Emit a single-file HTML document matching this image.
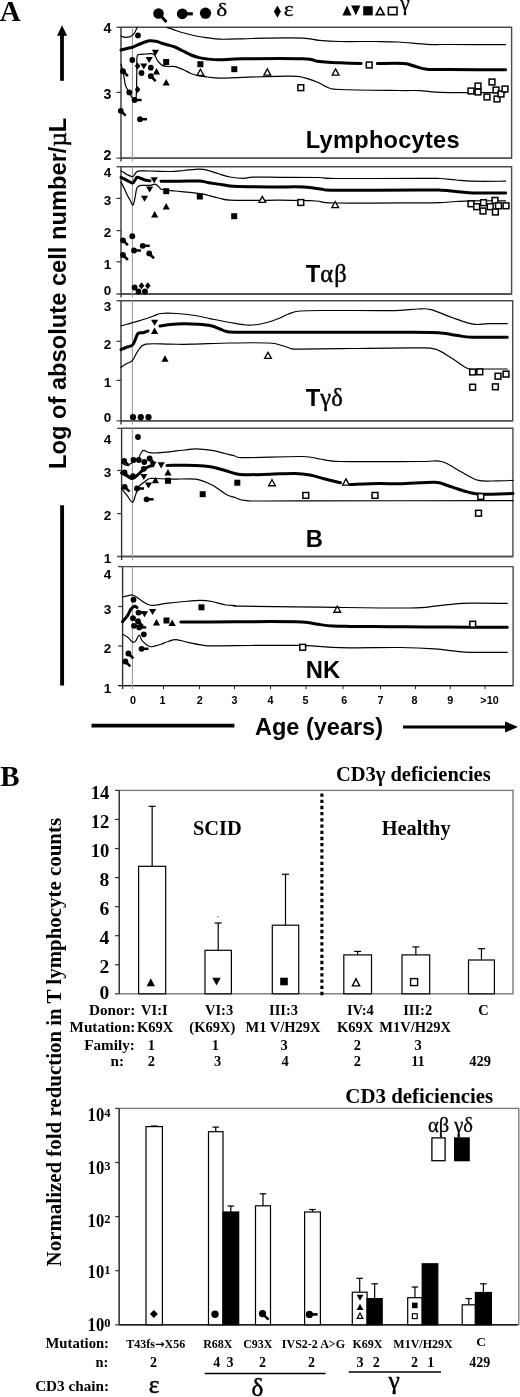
<!DOCTYPE html>
<html><head><meta charset="utf-8"><title>Figure</title>
<style>html,body{margin:0;padding:0;background:#fff;} svg{display:block;}</style>
</head><body>
<svg width="520" height="1397" viewBox="0 0 520 1397">
<rect width="520" height="1397" fill="#fff"/>
<text x="-0.3" y="20.5" font-family="'Liberation Serif', 'Times New Roman', serif" font-size="29" font-weight="bold" text-anchor="start" >A</text>
<line x1="62" y1="35" x2="62" y2="80.8" stroke="#000" stroke-width="3.8" stroke-linecap="butt"/>
<polygon points="57,35.8 67.1,35.8 62,25.3" fill="#000"/>
<text x="0" y="0" font-family="'Liberation Sans', Arial, sans-serif" font-size="23.7" font-weight="bold" text-anchor="start" transform="translate(66,469) rotate(-90)">Log of absolute cell number/<tspan font-family="'Liberation Serif', 'Times New Roman', serif" font-weight="normal" font-size="25" stroke="#000" stroke-width="0.5">µ</tspan>L</text>
<line x1="62.1" y1="505.3" x2="62.1" y2="685.6" stroke="#000" stroke-width="3.9" stroke-linecap="butt"/>
<circle cx="158.5" cy="13.5" r="5.3" fill="#000"/>
<line x1="158.5" y1="13.5" x2="166.5" y2="22" stroke="#000" stroke-width="3" />
<circle cx="182.3" cy="13.8" r="5.4" fill="#000"/>
<line x1="182.3" y1="13.8" x2="192.8" y2="13.8" stroke="#000" stroke-width="3.2" />
<circle cx="205.5" cy="13.2" r="5.6" fill="#000"/>
<text x="216.3" y="16.3" font-family="'Liberation Serif', 'Times New Roman', serif" font-size="19.5" font-weight="normal" text-anchor="start" textLength="11" lengthAdjust="spacingAndGlyphs" stroke="#000" stroke-width="0.3">δ</text>
<polygon points="277.4,5.4 280.9,11.5 277.4,17.7 273.9,11.5" fill="#000"/>
<text x="283.8" y="16.3" font-family="'Liberation Serif', 'Times New Roman', serif" font-size="21.5" font-weight="normal" text-anchor="start" textLength="10" lengthAdjust="spacingAndGlyphs" stroke="#000" stroke-width="0.3">ε</text>
<polygon points="342.4,15.4 351.6,15.4 347,5.4" fill="#000"/>
<polygon points="351.2,5.4 360.4,5.4 355.8,15.4" fill="#000"/>
<rect x="363.2" y="6.2" width="9.5" height="9.2" fill="#000"/>
<polygon points="376.2,14.6 384.2,14.6 380.2,7.4" fill="#fff" stroke="#000" stroke-width="1.6"/>
<rect x="388.4" y="7.3" width="8.6" height="7.4" fill="#fff" stroke="#000" stroke-width="1.6"/>
<text x="400.2" y="9.9" font-family="'Liberation Serif', 'Times New Roman', serif" font-size="21.5" font-weight="normal" text-anchor="start" stroke="#000" stroke-width="0.3">γ</text>
<path d="M121,27.3 H511.6 V158.1 H121" fill="none" stroke="#4a4a4a" stroke-width="1.4"/>
<line x1="116.5" y1="27.3" x2="121" y2="27.3" stroke="#4a4a4a" stroke-width="1.4" />
<line x1="116.5" y1="158.1" x2="511.6" y2="158.1" stroke="#4a4a4a" stroke-width="1.4" />
<line x1="121" y1="27.3" x2="121" y2="161.6" stroke="#333" stroke-width="1.4" />
<line x1="116.5" y1="92.4" x2="121" y2="92.4" stroke="#333" stroke-width="1.2" />
<text x="111.3" y="32.7" font-family="'Liberation Sans', Arial, sans-serif" font-size="14.2" font-weight="bold" text-anchor="end" >4</text>
<text x="111.3" y="98.7" font-family="'Liberation Sans', Arial, sans-serif" font-size="14.2" font-weight="bold" text-anchor="end" >3</text>
<text x="111.3" y="159.6" font-family="'Liberation Sans', Arial, sans-serif" font-size="14.2" font-weight="bold" text-anchor="end" >2</text>
<line x1="132.4" y1="27.3" x2="132.4" y2="161.6" stroke="#9a9a9a" stroke-width="1.1" />
<path d="M121,36 C121.5,36.2 122.88,37 124,37.2 C125.12,37.4 126.53,37.37 127.7,37.2 C128.87,37.03 130.03,36.7 131,36.2 C131.97,35.7 132.75,35.07 133.5,34.2 C134.25,33.33 134.87,32.13 135.5,31 C136.13,29.87 137,28 137.3,27.4" fill="none" stroke="#000" stroke-width="1.2" stroke-linejoin="round" stroke-linecap="round"/>
<path d="M167,27.4 C168.5,27.92 173.17,29.57 176,30.5 C178.83,31.43 180.67,32.08 184,33 C187.33,33.92 192.17,35.22 196,36 C199.83,36.78 203,37.17 207,37.7 C211,38.23 214,39.02 220,39.2 C226,39.38 235.33,38.98 243,38.8 C250.67,38.62 256,38.22 266,38.1 C276,37.98 294.13,37.72 303,38.1 C311.87,38.48 313.03,39.83 319.2,40.4 C325.37,40.97 330.53,41.32 340,41.5 C349.47,41.68 366.17,41.42 376,41.5 C385.83,41.58 390.5,41.53 399,42 C407.5,42.47 418.5,43.88 427,44.3 C435.5,44.72 436.9,44.45 450,44.5 C463.1,44.55 496.33,44.58 505.6,44.6" fill="none" stroke="#000" stroke-width="1.2" stroke-linejoin="round" stroke-linecap="round"/>
<path d="M121,50 C122,49.75 124.92,49.03 127,48.5 C129.08,47.97 131.17,47.63 133.5,46.8 C135.83,45.97 138.32,44.5 141,43.5 C143.68,42.5 147.1,41.17 149.6,40.8 C152.1,40.43 154.1,40.93 156,41.3 C157.9,41.67 159,42.38 161,43 C163,43.62 165.67,44.33 168,45 C170.33,45.67 172.5,46 175,47 C177.5,48 180.33,49.67 183,51 C185.67,52.33 188.33,53.9 191,55 C193.67,56.1 196.33,56.93 199,57.6 C201.67,58.27 203.5,58.63 207,59 C210.5,59.37 214,59.83 220,59.8 C226,59.77 229.17,58.97 243,58.8 C256.83,58.63 290.67,58.4 303,58.8 C315.33,59.2 312.75,60.62 317,61.2 C321.25,61.78 324.67,62.03 328.5,62.3 C332.33,62.57 334.55,62.6 340,62.8 C345.45,63 357.67,63.38 361.2,63.5" fill="none" stroke="#000" stroke-width="3" stroke-linejoin="round" stroke-linecap="round"/>
<path d="M377.3,63.5 C381.72,63.5 397.52,63.03 403.8,63.5 C410.08,63.97 411.13,65.35 415,66.3 C418.87,67.25 421.17,68.65 427,69.2 C432.83,69.75 436.9,69.52 450,69.6 C463.1,69.68 496.33,69.68 505.6,69.7" fill="none" stroke="#000" stroke-width="3" stroke-linejoin="round" stroke-linecap="round"/>
<path d="M121,64.2 C121.42,65.83 122.77,70.53 123.5,74 C124.23,77.47 124.65,82.25 125.4,85 C126.15,87.75 127.23,88.97 128,90.5 C128.77,92.03 129.17,92.82 130,94.2 C130.83,95.58 132.17,98.08 133,98.8 C133.83,99.52 134.47,98.88 135,98.5 C135.53,98.12 135.9,100.42 136.2,96.5 C136.5,92.58 136.67,81.53 136.8,75 C136.93,68.47 136.6,60.72 137,57.3 C137.4,53.88 137.7,55.05 139.2,54.5 C140.7,53.95 143.7,54.12 146,54 C148.3,53.88 151.42,53.38 153,53.8 C154.58,54.22 154.72,55.33 155.5,56.5 C156.28,57.67 156.57,59.32 157.7,60.8 C158.83,62.28 160.58,64.45 162.3,65.4 C164.02,66.35 165.88,66.3 168,66.5 C170.12,66.7 172.5,66.1 175,66.6 C177.5,67.1 180.33,68.35 183,69.5 C185.67,70.65 188.33,72.45 191,73.5 C193.67,74.55 196.28,75.22 199,75.8 C201.72,76.38 203.8,76.6 207.3,77 C210.8,77.4 214.05,78.15 220,78.2 C225.95,78.25 231.47,77.63 243,77.3 C254.53,76.97 279.2,76.2 289.2,76.2 C299.2,76.2 298.37,76.33 303,77.3 C307.63,78.27 312.75,80.27 317,82 C321.25,83.73 324.67,86.45 328.5,87.7 C332.33,88.95 328.25,89.03 340,89.5 C351.75,89.97 385.67,90.32 399,90.5 C412.33,90.68 413.17,90.3 420,90.6 C426.83,90.9 425.73,91.95 440,92.3 C454.27,92.65 494.67,92.63 505.6,92.7" fill="none" stroke="#000" stroke-width="1.2" stroke-linejoin="round" stroke-linecap="round"/>
<circle cx="138" cy="35.4" r="2.9" fill="#000"/>
<circle cx="132.3" cy="60" r="2.9" fill="#000"/>
<polygon points="151.8,49.64 159,49.64 155.4,55.76" fill="#000"/>
<polygon points="145.6,56.94 152.8,56.94 149.2,63.06" fill="#000"/>
<polygon points="140.2,63.44 147.4,63.44 143.8,69.56" fill="#000"/>
<polygon points="137.6,62.5 140.4,66 137.6,69.5 134.8,66" fill="#000"/>
<circle cx="150.8" cy="67.7" r="2.9" fill="#000"/>
<circle cx="141.5" cy="73" r="2.9" fill="#000"/>
<polygon points="152.9,74.44 160.1,74.44 156.5,67.96" fill="#000"/>
<circle cx="150.8" cy="76.2" r="2.9" fill="#000"/>
<line x1="150.8" y1="76.2" x2="155.68" y2="81.08" stroke="#000" stroke-width="2.6" stroke-linecap="butt"/>
<rect x="163.2" y="59" width="6" height="6" fill="#000"/>
<polygon points="162.6,85.44 169.8,85.44 166.2,78.96" fill="#000"/>
<rect x="197.4" y="61.2" width="6" height="6" fill="#000"/>
<polygon points="197,75.36 203.8,75.36 200.4,69.24" fill="#fff" stroke="#000" stroke-width="1.3" stroke-linejoin="miter"/>
<rect x="231.3" y="66.2" width="6" height="6" fill="#000"/>
<circle cx="123" cy="71.2" r="2.9" fill="#000"/>
<line x1="123" y1="71.2" x2="127.88" y2="76.08" stroke="#000" stroke-width="2.6" stroke-linecap="butt"/>
<polygon points="137.6,86.1 140.4,89.6 137.6,93.1 134.8,89.6" fill="#000"/>
<circle cx="129.3" cy="92.4" r="2.9" fill="#000"/>
<circle cx="134.6" cy="100" r="2.9" fill="#000"/>
<line x1="134.6" y1="100" x2="141.6" y2="100" stroke="#000" stroke-width="2.5" />
<circle cx="120.8" cy="110.8" r="2.9" fill="#000"/>
<line x1="120.8" y1="110.8" x2="125.67" y2="115.67" stroke="#000" stroke-width="2.6" stroke-linecap="butt"/>
<circle cx="140" cy="119.2" r="2.9" fill="#000"/>
<line x1="140" y1="119.2" x2="147" y2="119.2" stroke="#000" stroke-width="2.5" />
<polygon points="263.9,75.06 270.7,75.06 267.3,68.94" fill="#fff" stroke="#000" stroke-width="1.3" stroke-linejoin="miter"/>
<polygon points="332.2,75.06 339,75.06 335.6,68.94" fill="#fff" stroke="#000" stroke-width="1.3" stroke-linejoin="miter"/>
<rect x="297.9" y="84.8" width="5.8" height="5.8" fill="#fff" stroke="#000" stroke-width="1.5"/>
<rect x="366.3" y="62.1" width="5.8" height="5.8" fill="#fff" stroke="#000" stroke-width="1.5"/>
<rect x="468.1" y="88.1" width="5.8" height="5.8" fill="#fff" stroke="#000" stroke-width="1.5"/>
<rect x="475.1" y="83.1" width="5.8" height="5.8" fill="#fff" stroke="#000" stroke-width="1.5"/>
<rect x="475.1" y="89.1" width="5.8" height="5.8" fill="#fff" stroke="#000" stroke-width="1.5"/>
<rect x="484.1" y="94.1" width="5.8" height="5.8" fill="#fff" stroke="#000" stroke-width="1.5"/>
<rect x="489.1" y="79.1" width="5.8" height="5.8" fill="#fff" stroke="#000" stroke-width="1.5"/>
<rect x="493.1" y="87.1" width="5.8" height="5.8" fill="#fff" stroke="#000" stroke-width="1.5"/>
<rect x="494.1" y="96.1" width="5.8" height="5.8" fill="#fff" stroke="#000" stroke-width="1.5"/>
<rect x="498.1" y="91.1" width="5.8" height="5.8" fill="#fff" stroke="#000" stroke-width="1.5"/>
<rect x="502.1" y="86.1" width="5.8" height="5.8" fill="#fff" stroke="#000" stroke-width="1.5"/>
<text x="305.8" y="147.8" font-family="'Liberation Sans', Arial, sans-serif" font-size="23.6" font-weight="bold" text-anchor="start" textLength="153.8" lengthAdjust="spacing">Lymphocytes</text>
<path d="M121,166.7 H511.6 V294 H121" fill="none" stroke="#4a4a4a" stroke-width="1.4"/>
<line x1="116.5" y1="166.7" x2="121" y2="166.7" stroke="#4a4a4a" stroke-width="1.4" />
<line x1="116.5" y1="294" x2="511.6" y2="294" stroke="#4a4a4a" stroke-width="1.4" />
<line x1="121" y1="166.7" x2="121" y2="297.5" stroke="#333" stroke-width="1.4" />
<line x1="116.5" y1="198.4" x2="121" y2="198.4" stroke="#333" stroke-width="1.2" />
<line x1="116.5" y1="230.6" x2="121" y2="230.6" stroke="#333" stroke-width="1.2" />
<line x1="116.5" y1="261.8" x2="121" y2="261.8" stroke="#333" stroke-width="1.2" />
<text x="111.3" y="177.3" font-family="'Liberation Sans', Arial, sans-serif" font-size="13.5" font-weight="bold" text-anchor="end" >4</text>
<text x="111.3" y="205.2" font-family="'Liberation Sans', Arial, sans-serif" font-size="13.5" font-weight="bold" text-anchor="end" >3</text>
<text x="111.3" y="236.6" font-family="'Liberation Sans', Arial, sans-serif" font-size="13.5" font-weight="bold" text-anchor="end" >2</text>
<text x="111.3" y="268.6" font-family="'Liberation Sans', Arial, sans-serif" font-size="13.5" font-weight="bold" text-anchor="end" >1</text>
<text x="111.3" y="295.2" font-family="'Liberation Sans', Arial, sans-serif" font-size="13.5" font-weight="bold" text-anchor="end" >0</text>
<line x1="132.4" y1="166.7" x2="132.4" y2="297.5" stroke="#9a9a9a" stroke-width="1.1" />
<path d="M121,171 C121.5,171.25 123.08,171.95 124,172.5 C124.92,173.05 125.08,173.62 126.5,174.3 C127.92,174.98 131.08,176.65 132.5,176.6 C133.92,176.55 134.25,174.85 135,174 C135.75,173.15 136.1,172.03 137,171.5 C137.9,170.97 138.3,170.88 140.4,170.8 C142.5,170.72 144.6,170.88 149.6,171 C154.6,171.12 164.67,171.58 170.4,171.5 C176.13,171.42 179.2,170.88 184,170.5 C188.8,170.12 195.07,169.18 199.2,169.2 C203.33,169.22 205.58,169.83 208.8,170.6 C212.02,171.37 214.97,172.73 218.5,173.8 C222.03,174.87 225.83,176.25 230,177 C234.17,177.75 239.67,178.27 243.5,178.3 C247.33,178.33 246.92,177.37 253,177.2 C259.08,177.03 269,177.25 280,177.3 C291,177.35 309.9,177.3 319,177.5 C328.1,177.7 317.77,178.35 334.6,178.5 C351.43,178.65 402.6,178.4 420,178.4 C437.4,178.4 433,178.23 439,178.5 C445,178.77 450.5,179.55 456,180 C461.5,180.45 463.73,181 472,181.2 C480.27,181.4 500,181.2 505.6,181.2" fill="none" stroke="#000" stroke-width="1.2" stroke-linejoin="round" stroke-linecap="round"/>
<path d="M121,177.3 C122,177.8 125.08,179.35 127,180.3 C128.92,181.25 131.17,183.05 132.5,183 C133.83,182.95 134.25,180.95 135,180 C135.75,179.05 136,177.55 137,177.3 C138,177.05 139.5,178 141,178.5 C142.5,179 144.5,179.92 146,180.3 C147.5,180.68 149.33,180.72 150,180.8" fill="none" stroke="#000" stroke-width="3" stroke-linejoin="round" stroke-linecap="round"/>
<path d="M161,181.2 C164.17,181.2 173.63,181.23 180,181.2 C186.37,181.17 194.4,180.75 199.2,181 C204,181.25 204.63,182.03 208.8,182.7 C212.97,183.37 220.03,184.4 224.2,185 C228.37,185.6 226.17,185.97 233.8,186.3 C241.43,186.63 258.33,186.88 270,187 C281.67,187.12 295.08,186.63 303.8,187 C312.52,187.37 317.17,188.67 322.3,189.2 C327.43,189.73 318.32,190.07 334.6,190.2 C350.88,190.33 402.6,190.03 420,190 C437.4,189.97 433,189.75 439,190 C445,190.25 450.5,191 456,191.5 C461.5,192 463.73,192.75 472,193 C480.27,193.25 500,193 505.6,193" fill="none" stroke="#000" stroke-width="3" stroke-linejoin="round" stroke-linecap="round"/>
<path d="M121,182 C121.5,183 123,185.9 124,188 C125,190.1 126,192.6 127,194.6 C128,196.6 129.08,198.27 130,200 C130.92,201.73 131.83,204.55 132.5,205 C133.17,205.45 133.5,204.37 134,202.7 C134.5,201.03 135,197.5 135.5,195 C136,192.5 136.08,189.3 137,187.7 C137.92,186.1 138.83,185.78 141,185.4 C143.17,185.02 147.67,185.6 150,185.4 C152.33,185.2 153.58,184.02 155,184.2 C156.42,184.38 157.33,185.62 158.5,186.5 C159.67,187.38 159.25,188.75 162,189.5 C164.75,190.25 170.33,190.52 175,191 C179.67,191.48 185.33,191.87 190,192.4 C194.67,192.93 198.25,193.27 203,194.2 C207.75,195.13 214,197 218.5,198 C223,199 223.58,199.8 230,200.2 C236.42,200.6 248.67,200.4 257,200.4 C265.33,200.4 270.17,200.1 280,200.2 C289.83,200.3 306.9,200.53 316,201 C325.1,201.47 317.27,202.7 334.6,203 C351.93,203.3 402.6,202.85 420,202.8 C437.4,202.75 433,202.92 439,202.7 C445,202.48 450.5,201.82 456,201.5 C461.5,201.18 463.73,200.92 472,200.8 C480.27,200.68 500,200.8 505.6,200.8" fill="none" stroke="#000" stroke-width="1.2" stroke-linejoin="round" stroke-linecap="round"/>
<polygon points="150.6,177.24 157.8,177.24 154.2,183.36" fill="#000"/>
<polygon points="146,186.44 153.2,186.44 149.6,192.56" fill="#000"/>
<polygon points="140.9,195.74 148.1,195.74 144.5,201.86" fill="#000"/>
<rect x="163.2" y="188.2" width="6" height="6" fill="#000"/>
<polygon points="162.6,209.44 169.8,209.44 166.2,202.96" fill="#000"/>
<polygon points="151.1,217.44 158.3,217.44 154.7,210.96" fill="#000"/>
<rect x="196.8" y="193.5" width="6" height="6" fill="#000"/>
<rect x="231.2" y="213.2" width="6" height="6" fill="#000"/>
<circle cx="132.3" cy="236.2" r="2.9" fill="#000"/>
<circle cx="123" cy="240.3" r="2.9" fill="#000"/>
<line x1="123" y1="240.3" x2="127.88" y2="245.18" stroke="#000" stroke-width="2.6" stroke-linecap="butt"/>
<circle cx="142.7" cy="245.8" r="2.9" fill="#000"/>
<line x1="142.7" y1="245.8" x2="149.7" y2="245.8" stroke="#000" stroke-width="2.5" />
<circle cx="134" cy="250.5" r="2.9" fill="#000"/>
<line x1="134" y1="250.5" x2="141" y2="250.5" stroke="#000" stroke-width="2.5" />
<circle cx="149.2" cy="253.5" r="2.9" fill="#000"/>
<line x1="149.2" y1="253.5" x2="154.07" y2="258.38" stroke="#000" stroke-width="2.6" stroke-linecap="butt"/>
<circle cx="123" cy="255" r="2.9" fill="#000"/>
<line x1="123" y1="255" x2="127.88" y2="259.88" stroke="#000" stroke-width="2.6" stroke-linecap="butt"/>
<circle cx="134.6" cy="287.5" r="2.9" fill="#000"/>
<polygon points="141.5,282.3 144.3,285.8 141.5,289.3 138.7,285.8" fill="#000"/>
<polygon points="147.8,282.3 150.6,285.8 147.8,289.3 145,285.8" fill="#000"/>
<circle cx="138.5" cy="291.5" r="2.9" fill="#000"/>
<circle cx="145" cy="291.5" r="2.9" fill="#000"/>
<polygon points="258.9,202.46 265.7,202.46 262.3,196.34" fill="#fff" stroke="#000" stroke-width="1.3" stroke-linejoin="miter"/>
<rect x="297.9" y="199.6" width="5.8" height="5.8" fill="#fff" stroke="#000" stroke-width="1.5"/>
<polygon points="331.8,207.66 338.6,207.66 335.2,201.54" fill="#fff" stroke="#000" stroke-width="1.3" stroke-linejoin="miter"/>
<rect x="468.1" y="200.9" width="5.8" height="5.8" fill="#fff" stroke="#000" stroke-width="1.5"/>
<rect x="473.8" y="203.8" width="5.8" height="5.8" fill="#fff" stroke="#000" stroke-width="1.5"/>
<rect x="480.6" y="199.8" width="5.8" height="5.8" fill="#fff" stroke="#000" stroke-width="1.5"/>
<rect x="480.1" y="208.1" width="5.8" height="5.8" fill="#fff" stroke="#000" stroke-width="1.5"/>
<rect x="487.3" y="203.8" width="5.8" height="5.8" fill="#fff" stroke="#000" stroke-width="1.5"/>
<rect x="492.1" y="197.5" width="5.8" height="5.8" fill="#fff" stroke="#000" stroke-width="1.5"/>
<rect x="495.6" y="202.9" width="5.8" height="5.8" fill="#fff" stroke="#000" stroke-width="1.5"/>
<rect x="492.5" y="209.1" width="5.8" height="5.8" fill="#fff" stroke="#000" stroke-width="1.5"/>
<rect x="503.1" y="202.9" width="5.8" height="5.8" fill="#fff" stroke="#000" stroke-width="1.5"/>
<text x="305.8" y="281.8" font-family="'Liberation Sans', Arial, sans-serif" font-size="23.8" font-weight="bold" text-anchor="start" >T<tspan font-family="'Liberation Serif', 'Times New Roman', serif" font-weight="normal" font-size="24.5" stroke="#000" stroke-width="0.45" letter-spacing="1">αβ</tspan></text>
<path d="M121,300.7 H512.7 V420.9 H121" fill="none" stroke="#4a4a4a" stroke-width="1.4"/>
<line x1="116.5" y1="300.7" x2="121" y2="300.7" stroke="#4a4a4a" stroke-width="1.4" />
<line x1="116.5" y1="420.9" x2="512.7" y2="420.9" stroke="#4a4a4a" stroke-width="1.4" />
<line x1="121" y1="300.7" x2="121" y2="424.4" stroke="#333" stroke-width="1.4" />
<line x1="116.5" y1="341.3" x2="121" y2="341.3" stroke="#333" stroke-width="1.2" />
<line x1="116.5" y1="380.4" x2="121" y2="380.4" stroke="#333" stroke-width="1.2" />
<text x="111.3" y="311" font-family="'Liberation Sans', Arial, sans-serif" font-size="13.5" font-weight="bold" text-anchor="end" >3</text>
<text x="111.3" y="348.7" font-family="'Liberation Sans', Arial, sans-serif" font-size="13.5" font-weight="bold" text-anchor="end" >2</text>
<text x="111.3" y="386.5" font-family="'Liberation Sans', Arial, sans-serif" font-size="13.5" font-weight="bold" text-anchor="end" >1</text>
<text x="111.3" y="422.3" font-family="'Liberation Sans', Arial, sans-serif" font-size="13.5" font-weight="bold" text-anchor="end" >0</text>
<line x1="132.4" y1="300.7" x2="132.4" y2="424.4" stroke="#9a9a9a" stroke-width="1.1" />
<path d="M121,325.8 C121.83,325.58 124.08,325.02 126,324.5 C127.92,323.98 130.5,323.25 132.5,322.7 C134.5,322.15 135.78,321.85 138,321.2 C140.22,320.55 143.22,319.67 145.8,318.8 C148.38,317.93 150.97,316.88 153.5,316 C156.03,315.12 157.17,313.92 161,313.5 C164.83,313.08 170.83,313.17 176.5,313.5 C182.17,313.83 189.25,314.62 195,315.5 C200.75,316.38 205.17,317.63 211,318.8 C216.83,319.97 224.2,321.47 230,322.5 C235.8,323.53 241.13,324.67 245.8,325 C250.47,325.33 254.17,325 258,324.5 C261.83,324 265.13,323.08 268.8,322 C272.47,320.92 276.8,319.3 280,318 C283.2,316.7 284.67,315.37 288,314.2 C291.33,313.03 293,311.62 300,311 C307,310.38 316.67,310.57 330,310.5 C343.33,310.43 368.33,310.62 380,310.6 C391.67,310.58 393.67,310.67 400,310.4 C406.33,310.13 412.83,309.13 418,309 C423.17,308.87 425.33,308.18 431,309.6 C436.67,311.02 444.93,315.07 452,317.5 C459.07,319.93 467.4,323.18 473.4,324.2 C479.4,325.22 482.35,323.7 488,323.6 C493.65,323.5 504.08,323.6 507.3,323.6" fill="none" stroke="#000" stroke-width="1.2" stroke-linejoin="round" stroke-linecap="round"/>
<path d="M121,349.6 C121.83,349.25 124.08,348.27 126,347.5 C127.92,346.73 130.92,346.42 132.5,345 C134.08,343.58 134.58,340.92 135.5,339 C136.42,337.08 136.75,334.55 138,333.5 C139.25,332.45 141.33,333.12 143,332.7 C144.67,332.28 147.17,331.28 148,331" fill="none" stroke="#000" stroke-width="3" stroke-linejoin="round" stroke-linecap="round"/>
<path d="M160,326 C161.67,325.75 166,324.87 170,324.5 C174,324.13 179.33,323.83 184,323.8 C188.67,323.77 193.5,323.97 198,324.3 C202.5,324.63 207.33,325.02 211,325.8 C214.67,326.58 217.42,328.05 220,329 C222.58,329.95 223.17,330.97 226.5,331.5 C229.83,332.03 227.75,332.08 240,332.2 C252.25,332.32 273.33,332.2 300,332.2 C326.67,332.2 378,332.17 400,332.2 C422,332.23 424.33,332.17 432,332.4 C439.67,332.63 441.67,333.07 446,333.6 C450.33,334.13 453.67,335 458,335.6 C462.33,336.2 463.78,336.92 472,337.2 C480.22,337.48 501.42,337.28 507.3,337.3" fill="none" stroke="#000" stroke-width="3" stroke-linejoin="round" stroke-linecap="round"/>
<path d="M121,367.3 C121.83,366.75 124.08,365.15 126,364 C127.92,362.85 130.5,362.6 132.5,360.4 C134.5,358.2 135.78,353.5 138,350.8 C140.22,348.1 140.47,345.3 145.8,344.2 C151.13,343.1 162.3,344.2 170,344.2 C177.7,344.2 182,344.4 192,344.2 C202,344 217.2,343.2 230,343 C242.8,342.8 260.13,342.58 268.8,343 C277.47,343.42 278.13,344.53 282,345.5 C285.87,346.47 289,348.2 292,348.8 C295,349.4 290.33,349.15 300,349.1 C309.67,349.05 331,348.7 350,348.5 C369,348.3 399.77,347.8 414,347.9 C428.23,348 429.02,347.33 435.4,349.1 C441.78,350.87 446.67,355.18 452.3,358.5 C457.93,361.82 463.58,367.25 469.2,369 C474.82,370.75 479.65,369 486,369 C492.35,369 503.75,369 507.3,369" fill="none" stroke="#000" stroke-width="1.2" stroke-linejoin="round" stroke-linecap="round"/>
<polygon points="151,319.64 158.2,319.64 154.6,325.76" fill="#000"/>
<polygon points="151,334.04 158.2,334.04 154.6,327.56" fill="#000"/>
<polygon points="161.4,361.74 168.6,361.74 165,355.26" fill="#000"/>
<polygon points="264.6,358.46 271.4,358.46 268,352.34" fill="#fff" stroke="#000" stroke-width="1.3" stroke-linejoin="miter"/>
<circle cx="133" cy="417.2" r="3.1" fill="#000"/>
<circle cx="140.8" cy="417.2" r="3.1" fill="#000"/>
<circle cx="148.5" cy="417.2" r="3.1" fill="#000"/>
<rect x="469.7" y="369.1" width="5.8" height="5.8" fill="#fff" stroke="#000" stroke-width="1.5"/>
<rect x="476.9" y="368.9" width="5.8" height="5.8" fill="#fff" stroke="#000" stroke-width="1.5"/>
<rect x="495.1" y="373.3" width="5.8" height="5.8" fill="#fff" stroke="#000" stroke-width="1.5"/>
<rect x="503.1" y="371.2" width="5.8" height="5.8" fill="#fff" stroke="#000" stroke-width="1.5"/>
<rect x="469.7" y="384.3" width="5.8" height="5.8" fill="#fff" stroke="#000" stroke-width="1.5"/>
<rect x="492.5" y="383.9" width="5.8" height="5.8" fill="#fff" stroke="#000" stroke-width="1.5"/>
<text x="305.8" y="406" font-family="'Liberation Sans', Arial, sans-serif" font-size="23.8" font-weight="bold" text-anchor="start" >T<tspan font-family="'Liberation Serif', 'Times New Roman', serif" font-weight="normal" font-size="24.5" stroke="#000" stroke-width="0.45">γδ</tspan></text>
<path d="M121.6,428.3 H512.9 V556.5 H121.6" fill="none" stroke="#4a4a4a" stroke-width="1.4"/>
<line x1="117.1" y1="428.3" x2="121.6" y2="428.3" stroke="#4a4a4a" stroke-width="1.4" />
<line x1="117.1" y1="556.5" x2="512.9" y2="556.5" stroke="#4a4a4a" stroke-width="1.4" />
<line x1="121.6" y1="428.3" x2="121.6" y2="560" stroke="#333" stroke-width="1.4" />
<line x1="117.1" y1="470.5" x2="121.6" y2="470.5" stroke="#333" stroke-width="1.2" />
<line x1="117.1" y1="513.6" x2="121.6" y2="513.6" stroke="#333" stroke-width="1.2" />
<text x="111.3" y="444.4" font-family="'Liberation Sans', Arial, sans-serif" font-size="13.5" font-weight="bold" text-anchor="end" >4</text>
<text x="111.3" y="477.3" font-family="'Liberation Sans', Arial, sans-serif" font-size="13.5" font-weight="bold" text-anchor="end" >3</text>
<text x="111.3" y="520.4" font-family="'Liberation Sans', Arial, sans-serif" font-size="13.5" font-weight="bold" text-anchor="end" >2</text>
<text x="111.3" y="563.4" font-family="'Liberation Sans', Arial, sans-serif" font-size="13.5" font-weight="bold" text-anchor="end" >1</text>
<line x1="132.4" y1="428.3" x2="132.4" y2="560" stroke="#9a9a9a" stroke-width="1.1" />
<path d="M121.5,463 C122.42,463.4 125.17,465.48 127,465.4 C128.83,465.32 130.67,463.57 132.5,462.5 C134.33,461.43 136.58,460.58 138,459 C139.42,457.42 140.03,454.43 141,453 C141.97,451.57 142.37,450.45 143.8,450.4 C145.23,450.35 146.73,452.32 149.6,452.7 C152.47,453.08 155.23,453.15 161,452.7 C166.77,452.25 178.4,450.65 184.2,450 C190,449.35 191.17,448.73 195.8,448.8 C200.43,448.87 207.13,449.62 212,450.4 C216.87,451.18 221.17,452.57 225,453.5 C228.83,454.43 231.8,455.3 235,456 C238.2,456.7 233.03,457.62 244.2,457.7 C255.37,457.78 289.37,456.28 302,456.5 C314.63,456.72 313.6,458.17 320,459 C326.4,459.83 323.98,461.08 340.4,461.5 C356.82,461.92 401.65,461.5 418.5,461.5 C435.35,461.5 434.58,459.88 441.5,461.5 C448.42,463.12 453.83,468.05 460,471.2 C466.17,474.35 472.33,478.8 478.5,480.4 C484.67,482 491.25,480.8 497,480.8 C502.75,480.8 510.33,480.47 513,480.4" fill="none" stroke="#000" stroke-width="1.2" stroke-linejoin="round" stroke-linecap="round"/>
<path d="M121.5,473 C122.42,473.47 125.17,474.88 127,475.8 C128.83,476.72 130.67,478.7 132.5,478.5 C134.33,478.3 136.25,476.02 138,474.6 C139.75,473.18 141.17,471.35 143,470 C144.83,468.65 147.33,467.27 149,466.5 C150.67,465.73 152.33,465.58 153,465.4" fill="none" stroke="#000" stroke-width="3" stroke-linejoin="round" stroke-linecap="round"/>
<path d="M167,465.4 C171.8,465.4 188.3,465.13 195.8,465.4 C203.3,465.67 207.13,466.15 212,467 C216.87,467.85 221.17,469.42 225,470.5 C228.83,471.58 231.83,472.78 235,473.5 C238.17,474.22 238.17,474.68 244,474.8 C249.83,474.92 261.5,474.43 270,474.2 C278.5,473.97 288.33,473.27 295,473.4 C301.67,473.53 305,474.07 310,475 C315,475.93 319.93,477.72 325,479 C330.07,480.28 337.83,482.08 340.4,482.7" fill="none" stroke="#000" stroke-width="3" stroke-linejoin="round" stroke-linecap="round"/>
<path d="M350.5,484.6 C355.22,484.42 370.55,483.63 378.8,483.5 C387.05,483.37 390.7,484.02 400,483.8 C409.3,483.58 426.93,482 434.6,482.2 C442.27,482.4 442.1,483.87 446,485 C449.9,486.13 454.13,487.77 458,489 C461.87,490.23 465.4,491.53 469.2,492.4 C473,493.27 473.5,494.02 480.8,494.2 C488.1,494.38 507.63,493.62 513,493.5" fill="none" stroke="#000" stroke-width="3" stroke-linejoin="round" stroke-linecap="round"/>
<path d="M121.5,488.5 C122.42,489.65 125.17,493.1 127,495.4 C128.83,497.7 131.03,502.5 132.5,502.3 C133.97,502.1 134.68,496.88 135.8,494.2 C136.92,491.52 137.67,488.32 139.2,486.2 C140.73,484.08 143.27,482.78 145,481.5 C146.73,480.22 147.87,479 149.6,478.5 C151.33,478 151.55,478.38 155.4,478.5 C159.25,478.62 165.97,479.08 172.7,479.2 C179.43,479.32 189.25,478.23 195.8,479.2 C202.35,480.17 207,482.5 212,485 C217,487.5 221.97,492.12 225.8,494.2 C229.63,496.28 231.3,496.4 235,497.5 C238.7,498.6 237.17,500.25 248,500.8 C258.83,501.35 255.83,500.82 300,500.8 C344.17,500.78 477.5,500.72 513,500.7" fill="none" stroke="#000" stroke-width="1.2" stroke-linejoin="round" stroke-linecap="round"/>
<circle cx="138" cy="437" r="2.9" fill="#000"/>
<circle cx="124.2" cy="460.8" r="2.9" fill="#000"/>
<line x1="124.2" y1="460.8" x2="129.07" y2="465.68" stroke="#000" stroke-width="2.6" stroke-linecap="butt"/>
<circle cx="133.5" cy="460" r="2.9" fill="#000"/>
<circle cx="138.8" cy="460" r="2.9" fill="#000"/>
<circle cx="144.3" cy="462" r="2.9" fill="#000"/>
<circle cx="149.6" cy="458.5" r="2.9" fill="#000"/>
<line x1="149.6" y1="458.5" x2="154.47" y2="463.38" stroke="#000" stroke-width="2.6" stroke-linecap="butt"/>
<polygon points="149.4,461.64 156.6,461.64 153,467.76" fill="#000"/>
<polygon points="157.6,462.34 164.8,462.34 161.2,468.46" fill="#000"/>
<polygon points="164.4,475.54 171.6,475.54 168,469.06" fill="#000"/>
<circle cx="143.8" cy="468.8" r="2.9" fill="#000"/>
<circle cx="124.5" cy="472.5" r="2.9" fill="#000"/>
<line x1="124.5" y1="472.5" x2="129.38" y2="477.38" stroke="#000" stroke-width="2.6" stroke-linecap="butt"/>
<circle cx="133" cy="476.2" r="2.9" fill="#000"/>
<polygon points="140.2,473.94 147.4,473.94 143.8,480.06" fill="#000"/>
<polygon points="144.9,482.44 152.1,482.44 148.5,488.56" fill="#000"/>
<polygon points="151.8,483.24 159,483.24 155.4,476.76" fill="#000"/>
<rect x="165" y="477.8" width="6" height="6" fill="#000"/>
<circle cx="124.7" cy="486.8" r="2.9" fill="#000"/>
<line x1="124.7" y1="486.8" x2="129.57" y2="491.68" stroke="#000" stroke-width="2.6" stroke-linecap="butt"/>
<circle cx="137" cy="488.5" r="2.9" fill="#000"/>
<line x1="137" y1="488.5" x2="144" y2="488.5" stroke="#000" stroke-width="2.5" />
<circle cx="146.6" cy="499.3" r="2.9" fill="#000"/>
<line x1="146.6" y1="499.3" x2="153.6" y2="499.3" stroke="#000" stroke-width="2.5" />
<rect x="199.7" y="491.2" width="6" height="6" fill="#000"/>
<rect x="234.3" y="479.7" width="6" height="6" fill="#000"/>
<polygon points="268.6,485.76 275.4,485.76 272,479.64" fill="#fff" stroke="#000" stroke-width="1.3" stroke-linejoin="miter"/>
<rect x="302.9" y="492.5" width="5.8" height="5.8" fill="#fff" stroke="#000" stroke-width="1.5"/>
<polygon points="342.6,485.06 349.4,485.06 346,478.94" fill="#fff" stroke="#000" stroke-width="1.3" stroke-linejoin="miter"/>
<rect x="372.1" y="492.5" width="5.8" height="5.8" fill="#fff" stroke="#000" stroke-width="1.5"/>
<rect x="477.9" y="493.6" width="5.8" height="5.8" fill="#fff" stroke="#000" stroke-width="1.5"/>
<rect x="475.6" y="510.3" width="5.8" height="5.8" fill="#fff" stroke="#000" stroke-width="1.5"/>
<text x="305.8" y="546.9" font-family="'Liberation Sans', Arial, sans-serif" font-size="23.8" font-weight="bold" text-anchor="start" >B</text>
<path d="M122.6,566.6 H513.1 V685.6 H122.6" fill="none" stroke="#4a4a4a" stroke-width="1.4"/>
<line x1="118.1" y1="566.6" x2="122.6" y2="566.6" stroke="#4a4a4a" stroke-width="1.4" />
<line x1="118.1" y1="685.6" x2="513.1" y2="685.6" stroke="#111" stroke-width="1.4" />
<line x1="122.6" y1="566.6" x2="122.6" y2="689.1" stroke="#333" stroke-width="1.4" />
<line x1="118.1" y1="606.5" x2="122.6" y2="606.5" stroke="#333" stroke-width="1.2" />
<line x1="118.1" y1="646" x2="122.6" y2="646" stroke="#333" stroke-width="1.2" />
<text x="111.3" y="578.9" font-family="'Liberation Sans', Arial, sans-serif" font-size="13.5" font-weight="bold" text-anchor="end" >4</text>
<text x="111.3" y="613.7" font-family="'Liberation Sans', Arial, sans-serif" font-size="13.5" font-weight="bold" text-anchor="end" >3</text>
<text x="111.3" y="652.9" font-family="'Liberation Sans', Arial, sans-serif" font-size="13.5" font-weight="bold" text-anchor="end" >2</text>
<text x="111.3" y="692.6" font-family="'Liberation Sans', Arial, sans-serif" font-size="13.5" font-weight="bold" text-anchor="end" >1</text>
<line x1="132.4" y1="566.6" x2="132.4" y2="689.1" stroke="#9a9a9a" stroke-width="1.1" />
<line x1="163.5" y1="685.6" x2="163.5" y2="689.1" stroke="#222" stroke-width="1" />
<line x1="199.5" y1="685.6" x2="199.5" y2="689.1" stroke="#222" stroke-width="1" />
<line x1="234.5" y1="685.6" x2="234.5" y2="689.1" stroke="#222" stroke-width="1" />
<line x1="270.5" y1="685.6" x2="270.5" y2="689.1" stroke="#222" stroke-width="1" />
<line x1="306" y1="685.6" x2="306" y2="689.1" stroke="#222" stroke-width="1" />
<line x1="343" y1="685.6" x2="343" y2="689.1" stroke="#222" stroke-width="1" />
<line x1="380.5" y1="685.6" x2="380.5" y2="689.1" stroke="#222" stroke-width="1" />
<line x1="415.5" y1="685.6" x2="415.5" y2="689.1" stroke="#222" stroke-width="1" />
<line x1="450.3" y1="685.6" x2="450.3" y2="689.1" stroke="#222" stroke-width="1" />
<line x1="485" y1="685.6" x2="485" y2="689.1" stroke="#222" stroke-width="1" />
<path d="M122.5,597 C123.37,596.8 126.03,596.13 127.7,595.8 C129.37,595.47 130.78,594.63 132.5,595 C134.22,595.37 136.3,596.92 138,598 C139.7,599.08 140.77,600.33 142.7,601.5 C144.63,602.67 147.3,604.42 149.6,605 C151.9,605.58 153.8,605.27 156.5,605 C159.2,604.73 161.18,603.98 165.8,603.4 C170.42,602.82 178.43,602 184.2,601.5 C189.97,601 195.77,600.4 200.4,600.4 C205.03,600.4 207.77,600.73 212,601.5 C216.23,602.27 221.97,604.33 225.8,605 C229.63,605.67 232.57,605.3 235,605.5 C237.43,605.7 226.23,605.92 240.4,606.2 C254.57,606.48 291.8,606.9 320,607.2 C348.2,607.5 390.5,608.17 409.6,608 C428.7,607.83 426.97,606.9 434.6,606.2 C442.23,605.5 449.25,604.3 455.4,603.8 C461.55,603.3 462.85,603.27 471.5,603.2 C480.15,603.13 501.33,603.37 507.3,603.4" fill="none" stroke="#000" stroke-width="1.2" stroke-linejoin="round" stroke-linecap="round"/>
<path d="M122.5,621.8 C123.37,620.73 126.28,617.53 127.7,615.4 C129.12,613.27 129.85,610.53 131,609 C132.15,607.47 133.6,606.45 134.6,606.2 C135.6,605.95 136.6,607.28 137,607.5" fill="none" stroke="#000" stroke-width="3" stroke-linejoin="round" stroke-linecap="round"/>
<path d="M180.8,622 C189.83,621.97 220.13,621.87 235,621.8 C249.87,621.73 260,621.6 270,621.6 C280,621.6 288.67,621.63 295,621.8 C301.33,621.97 303.83,622.13 308,622.6 C312.17,623.07 315.83,624.03 320,624.6 C324.17,625.17 328,625.7 333,626 C338,626.3 340.5,626.28 350,626.4 C359.5,626.52 377.5,626.6 390,626.7 C402.5,626.8 411.67,626.92 425,627 C438.33,627.08 456.28,627.17 470,627.2 C483.72,627.23 501.08,627.2 507.3,627.2" fill="none" stroke="#000" stroke-width="3" stroke-linejoin="round" stroke-linecap="round"/>
<path d="M122.5,634.3 C123.37,634.8 126.03,636.02 127.7,637.3 C129.37,638.58 131.15,641.42 132.5,642 C133.85,642.58 134.68,641.97 135.8,640.8 C136.92,639.63 138.13,635 139.2,635 C140.27,635 140.47,638.88 142.2,640.8 C143.93,642.72 147.4,645.67 149.6,646.5 C151.8,647.33 153.5,646.18 155.4,645.8 C157.3,645.42 158.9,644.92 161,644.2 C163.1,643.48 165.47,642.27 168,641.5 C170.53,640.73 172.73,639.42 176.2,639.6 C179.67,639.78 183.62,641.57 188.8,642.6 C193.98,643.63 199.6,645.3 207.3,645.8 C215,646.3 219.22,645.67 235,645.6 C250.78,645.53 284.43,645.05 302,645.4 C319.57,645.75 324.07,647.35 340.4,647.7 C356.73,648.05 384.3,647.32 400,647.5 C415.7,647.68 425.37,648.18 434.6,648.8 C443.83,649.42 449.25,650.62 455.4,651.2 C461.55,651.78 462.85,652.12 471.5,652.3 C480.15,652.48 501.33,652.3 507.3,652.3" fill="none" stroke="#000" stroke-width="1.2" stroke-linejoin="round" stroke-linecap="round"/>
<circle cx="133.5" cy="599.7" r="2.9" fill="#000"/>
<circle cx="138.5" cy="612.6" r="2.9" fill="#000"/>
<line x1="138.5" y1="612.6" x2="145.5" y2="612.6" stroke="#000" stroke-width="2.5" />
<polygon points="140.9,611.14 148.1,611.14 144.5,617.26" fill="#000"/>
<polygon points="149,608.94 156.2,608.94 152.6,615.06" fill="#000"/>
<circle cx="133" cy="618.2" r="2.9" fill="#000"/>
<circle cx="138" cy="621.2" r="2.9" fill="#000"/>
<line x1="138" y1="621.2" x2="142.88" y2="626.08" stroke="#000" stroke-width="2.6" stroke-linecap="butt"/>
<circle cx="134" cy="625.8" r="2.9" fill="#000"/>
<line x1="134" y1="625.8" x2="141" y2="625.8" stroke="#000" stroke-width="2.5" />
<circle cx="139.2" cy="627.4" r="2.9" fill="#000"/>
<line x1="139.2" y1="627.4" x2="146.2" y2="627.4" stroke="#000" stroke-width="2.5" />
<polygon points="152.9,625.54 160.1,625.54 156.5,619.06" fill="#000"/>
<rect x="163.5" y="617.5" width="6" height="6" fill="#000"/>
<polygon points="168.6,626.04 175.8,626.04 172.2,619.56" fill="#000"/>
<rect x="198.5" y="604.3" width="6" height="6" fill="#000"/>
<circle cx="143.8" cy="634.3" r="2.9" fill="#000"/>
<circle cx="141.5" cy="648.8" r="2.9" fill="#000"/>
<line x1="141.5" y1="648.8" x2="148.5" y2="648.8" stroke="#000" stroke-width="2.5" />
<circle cx="128.4" cy="653.5" r="2.9" fill="#000"/>
<line x1="128.4" y1="653.5" x2="133.28" y2="658.38" stroke="#000" stroke-width="2.6" stroke-linecap="butt"/>
<circle cx="125.4" cy="661.5" r="2.9" fill="#000"/>
<line x1="125.4" y1="661.5" x2="130.28" y2="666.38" stroke="#000" stroke-width="2.6" stroke-linecap="butt"/>
<polygon points="333.9,612.26 340.7,612.26 337.3,606.14" fill="#fff" stroke="#000" stroke-width="1.3" stroke-linejoin="miter"/>
<rect x="299.8" y="644.4" width="5.8" height="5.8" fill="#fff" stroke="#000" stroke-width="1.5"/>
<rect x="469.8" y="621.3" width="5.8" height="5.8" fill="#fff" stroke="#000" stroke-width="1.5"/>
<text x="305.8" y="677.9" font-family="'Liberation Sans', Arial, sans-serif" font-size="23.8" font-weight="bold" text-anchor="start" >NK</text>
<text x="133.1" y="704" font-family="'Liberation Sans', Arial, sans-serif" font-size="10.8" font-weight="bold" text-anchor="middle" >0</text>
<text x="162.6" y="704" font-family="'Liberation Sans', Arial, sans-serif" font-size="10.8" font-weight="bold" text-anchor="middle" >1</text>
<text x="199.8" y="704" font-family="'Liberation Sans', Arial, sans-serif" font-size="10.8" font-weight="bold" text-anchor="middle" >2</text>
<text x="234.5" y="704" font-family="'Liberation Sans', Arial, sans-serif" font-size="10.8" font-weight="bold" text-anchor="middle" >3</text>
<text x="270.4" y="704" font-family="'Liberation Sans', Arial, sans-serif" font-size="10.8" font-weight="bold" text-anchor="middle" >4</text>
<text x="305.5" y="704" font-family="'Liberation Sans', Arial, sans-serif" font-size="10.8" font-weight="bold" text-anchor="middle" >5</text>
<text x="344.2" y="704" font-family="'Liberation Sans', Arial, sans-serif" font-size="10.8" font-weight="bold" text-anchor="middle" >6</text>
<text x="380.4" y="704" font-family="'Liberation Sans', Arial, sans-serif" font-size="10.8" font-weight="bold" text-anchor="middle" >7</text>
<text x="414.4" y="704" font-family="'Liberation Sans', Arial, sans-serif" font-size="10.8" font-weight="bold" text-anchor="middle" >8</text>
<text x="450.2" y="704" font-family="'Liberation Sans', Arial, sans-serif" font-size="10.8" font-weight="bold" text-anchor="middle" >9</text>
<text x="489.5" y="704" font-family="'Liberation Sans', Arial, sans-serif" font-size="10.8" font-weight="bold" text-anchor="middle" >&gt;10</text>
<line x1="91.5" y1="725.6" x2="234.4" y2="725.6" stroke="#000" stroke-width="3.6" stroke-linecap="butt"/>
<text x="255" y="734.7" font-family="'Liberation Sans', Arial, sans-serif" font-size="23.5" font-weight="bold" text-anchor="start" >Age (years)</text>
<line x1="403" y1="727" x2="507" y2="727" stroke="#000" stroke-width="3" stroke-linecap="butt"/>
<polygon points="505,721.5 518,727 505,732.5" fill="#000"/>
<text x="0.2" y="786.4" font-family="'Liberation Serif', 'Times New Roman', serif" font-size="29" font-weight="bold" text-anchor="start" >B</text>
<text x="0" y="0" font-family="'Liberation Serif', 'Times New Roman', serif" font-size="20" font-weight="bold" text-anchor="start" textLength="448.5" lengthAdjust="spacingAndGlyphs" transform="translate(60.7,1266.4) rotate(-90)">Normalized fold reduction in T lymphocyte counts</text>
<rect x="119.3" y="790.4" width="393.7" height="203.4" fill="none" stroke="#7a7a7a" stroke-width="1.4"/>
<line x1="119.3" y1="790.4" x2="119.3" y2="993.8" stroke="#333" stroke-width="1.3" />
<line x1="115" y1="993.8" x2="119.3" y2="993.8" stroke="#333" stroke-width="1.2" />
<text x="109.4" y="999.2" font-family="'Liberation Serif', 'Times New Roman', serif" font-size="18.5" font-weight="bold" text-anchor="end" textLength="9.8" lengthAdjust="spacingAndGlyphs">0</text>
<line x1="115" y1="964.74" x2="119.3" y2="964.74" stroke="#333" stroke-width="1.2" />
<text x="109.4" y="972.94" font-family="'Liberation Serif', 'Times New Roman', serif" font-size="18.5" font-weight="bold" text-anchor="end" textLength="9.8" lengthAdjust="spacingAndGlyphs">2</text>
<line x1="115" y1="935.69" x2="119.3" y2="935.69" stroke="#333" stroke-width="1.2" />
<text x="109.4" y="943.89" font-family="'Liberation Serif', 'Times New Roman', serif" font-size="18.5" font-weight="bold" text-anchor="end" textLength="9.8" lengthAdjust="spacingAndGlyphs">4</text>
<line x1="115" y1="906.63" x2="119.3" y2="906.63" stroke="#333" stroke-width="1.2" />
<text x="109.4" y="914.83" font-family="'Liberation Serif', 'Times New Roman', serif" font-size="18.5" font-weight="bold" text-anchor="end" textLength="9.8" lengthAdjust="spacingAndGlyphs">6</text>
<line x1="115" y1="877.57" x2="119.3" y2="877.57" stroke="#333" stroke-width="1.2" />
<text x="109.4" y="885.77" font-family="'Liberation Serif', 'Times New Roman', serif" font-size="18.5" font-weight="bold" text-anchor="end" textLength="9.8" lengthAdjust="spacingAndGlyphs">8</text>
<line x1="115" y1="848.51" x2="119.3" y2="848.51" stroke="#333" stroke-width="1.2" />
<text x="109.4" y="856.71" font-family="'Liberation Serif', 'Times New Roman', serif" font-size="18.5" font-weight="bold" text-anchor="end" textLength="18.6" lengthAdjust="spacingAndGlyphs">10</text>
<line x1="115" y1="819.46" x2="119.3" y2="819.46" stroke="#333" stroke-width="1.2" />
<text x="109.4" y="827.66" font-family="'Liberation Serif', 'Times New Roman', serif" font-size="18.5" font-weight="bold" text-anchor="end" textLength="18.6" lengthAdjust="spacingAndGlyphs">12</text>
<line x1="115" y1="790.4" x2="119.3" y2="790.4" stroke="#333" stroke-width="1.2" />
<text x="109.4" y="798.6" font-family="'Liberation Serif', 'Times New Roman', serif" font-size="18.5" font-weight="bold" text-anchor="end" textLength="18.6" lengthAdjust="spacingAndGlyphs">14</text>
<text x="335.9" y="781.2" font-family="'Liberation Serif', 'Times New Roman', serif" font-size="20.5" font-weight="bold" text-anchor="start" >CD3γ deficiencies</text>
<text x="192.9" y="835.2" font-family="'Liberation Serif', 'Times New Roman', serif" font-size="20.4" font-weight="bold" text-anchor="start" >SCID</text>
<text x="381.8" y="835.2" font-family="'Liberation Serif', 'Times New Roman', serif" font-size="20.3" font-weight="bold" text-anchor="start" >Healthy</text>
<line x1="321.9" y1="793.45" x2="321.9" y2="995.5" stroke="#000" stroke-width="3.1" stroke-dasharray="3.3,2.9"/>
<line x1="152.15" y1="866.3" x2="152.15" y2="806.3" stroke="#000" stroke-width="1.2" />
<line x1="148.65" y1="806.3" x2="155.65" y2="806.3" stroke="#000" stroke-width="1.2" />
<rect x="138.6" y="866.3" width="27.1" height="127.5" fill="#fff" stroke="#000" stroke-width="1.2"/>
<line x1="218.2" y1="950.3" x2="218.2" y2="923" stroke="#000" stroke-width="1.2" />
<line x1="214.7" y1="923" x2="221.7" y2="923" stroke="#000" stroke-width="1.2" />
<rect x="205" y="950.3" width="26.4" height="43.5" fill="#fff" stroke="#000" stroke-width="1.2"/>
<line x1="285.5" y1="925.2" x2="285.5" y2="874.2" stroke="#000" stroke-width="1.2" />
<line x1="282" y1="874.2" x2="289" y2="874.2" stroke="#000" stroke-width="1.2" />
<rect x="272.3" y="925.2" width="26.4" height="68.6" fill="#fff" stroke="#000" stroke-width="1.2"/>
<line x1="357.65" y1="954.9" x2="357.65" y2="951.4" stroke="#000" stroke-width="1.2" />
<line x1="354.15" y1="951.4" x2="361.15" y2="951.4" stroke="#000" stroke-width="1.2" />
<rect x="343.8" y="954.9" width="27.7" height="38.9" fill="#fff" stroke="#000" stroke-width="1.2"/>
<line x1="415.85" y1="954.9" x2="415.85" y2="946.9" stroke="#000" stroke-width="1.2" />
<line x1="412.35" y1="946.9" x2="419.35" y2="946.9" stroke="#000" stroke-width="1.2" />
<rect x="402" y="954.9" width="27.7" height="38.9" fill="#fff" stroke="#000" stroke-width="1.2"/>
<line x1="481.45" y1="960" x2="481.45" y2="948.7" stroke="#000" stroke-width="1.2" />
<line x1="477.95" y1="948.7" x2="484.95" y2="948.7" stroke="#000" stroke-width="1.2" />
<rect x="468.5" y="960" width="25.9" height="33.8" fill="#fff" stroke="#000" stroke-width="1.2"/>
<circle cx="218" cy="916.7" r="0.7" fill="#555"/>
<polygon points="146.6,986.2 155,986.2 150.8,978.2" fill="#000"/>
<polygon points="212.3,977.8 220.7,977.8 216.5,985.6" fill="#000"/>
<rect x="280.2" y="977.7" width="7.6" height="7.6" fill="#000"/>
<polygon points="352.4,985.9 359.6,985.9 356,978.8" fill="#fff" stroke="#000" stroke-width="1.4"/>
<rect x="410.6" y="978.6" width="7" height="7" fill="#fff" stroke="#000" stroke-width="1.4"/>
<text x="135.4" y="1014.5" font-family="'Liberation Serif', 'Times New Roman', serif" font-size="15.2" font-weight="bold" text-anchor="end" >Donor:</text>
<text x="135.4" y="1032" font-family="'Liberation Serif', 'Times New Roman', serif" font-size="15.2" font-weight="bold" text-anchor="end" >Mutation:</text>
<text x="134.8" y="1049.5" font-family="'Liberation Serif', 'Times New Roman', serif" font-size="15.2" font-weight="bold" text-anchor="end" >Family:</text>
<text x="124" y="1066.3" font-family="'Liberation Serif', 'Times New Roman', serif" font-size="15.2" font-weight="bold" text-anchor="end" >n:</text>
<text x="154.4" y="1014.5" font-family="'Liberation Serif', 'Times New Roman', serif" font-size="14.5" font-weight="bold" text-anchor="middle" >VI:I</text>
<text x="155" y="1032" font-family="'Liberation Serif', 'Times New Roman', serif" font-size="14.5" font-weight="bold" text-anchor="middle" >K69X</text>
<text x="151.3" y="1049.5" font-family="'Liberation Serif', 'Times New Roman', serif" font-size="14.5" font-weight="bold" text-anchor="middle" >1</text>
<text x="151.3" y="1066.3" font-family="'Liberation Serif', 'Times New Roman', serif" font-size="14.5" font-weight="bold" text-anchor="middle" >2</text>
<text x="219.1" y="1014.5" font-family="'Liberation Serif', 'Times New Roman', serif" font-size="14.5" font-weight="bold" text-anchor="middle" >VI:3</text>
<text x="212.3" y="1032" font-family="'Liberation Serif', 'Times New Roman', serif" font-size="14.5" font-weight="bold" text-anchor="middle" >(K69X)</text>
<text x="215.3" y="1049.5" font-family="'Liberation Serif', 'Times New Roman', serif" font-size="14.5" font-weight="bold" text-anchor="middle" >1</text>
<text x="217.6" y="1066.3" font-family="'Liberation Serif', 'Times New Roman', serif" font-size="14.5" font-weight="bold" text-anchor="middle" >3</text>
<text x="283.5" y="1014.5" font-family="'Liberation Serif', 'Times New Roman', serif" font-size="14.5" font-weight="bold" text-anchor="middle" >III:3</text>
<text x="283" y="1032" font-family="'Liberation Serif', 'Times New Roman', serif" font-size="14.5" font-weight="bold" text-anchor="middle" >M1 V/H29X</text>
<text x="284" y="1049.5" font-family="'Liberation Serif', 'Times New Roman', serif" font-size="14.5" font-weight="bold" text-anchor="middle" >3</text>
<text x="285" y="1066.3" font-family="'Liberation Serif', 'Times New Roman', serif" font-size="14.5" font-weight="bold" text-anchor="middle" >4</text>
<text x="360.4" y="1014.5" font-family="'Liberation Serif', 'Times New Roman', serif" font-size="14.5" font-weight="bold" text-anchor="middle" >IV:4</text>
<text x="355.2" y="1032" font-family="'Liberation Serif', 'Times New Roman', serif" font-size="14.5" font-weight="bold" text-anchor="middle" >K69X</text>
<text x="357.3" y="1049.5" font-family="'Liberation Serif', 'Times New Roman', serif" font-size="14.5" font-weight="bold" text-anchor="middle" >2</text>
<text x="357.3" y="1066.3" font-family="'Liberation Serif', 'Times New Roman', serif" font-size="14.5" font-weight="bold" text-anchor="middle" >2</text>
<text x="417.7" y="1014.5" font-family="'Liberation Serif', 'Times New Roman', serif" font-size="14.5" font-weight="bold" text-anchor="middle" >III:2</text>
<text x="415.2" y="1032" font-family="'Liberation Serif', 'Times New Roman', serif" font-size="14.5" font-weight="bold" text-anchor="middle" >M1V/H29X</text>
<text x="418" y="1049.5" font-family="'Liberation Serif', 'Times New Roman', serif" font-size="14.5" font-weight="bold" text-anchor="middle" >3</text>
<text x="418" y="1066.3" font-family="'Liberation Serif', 'Times New Roman', serif" font-size="14.5" font-weight="bold" text-anchor="middle" >11</text>
<text x="483.5" y="1014.5" font-family="'Liberation Serif', 'Times New Roman', serif" font-size="14.5" font-weight="bold" text-anchor="middle" >C</text>
<text x="480" y="1066.3" font-family="'Liberation Serif', 'Times New Roman', serif" font-size="14.5" font-weight="bold" text-anchor="middle" >429</text>
<rect x="119.2" y="1108.4" width="399.6" height="216.4" fill="none" stroke="#7a7a7a" stroke-width="1.4"/>
<line x1="119.2" y1="1108.4" x2="119.2" y2="1324.8" stroke="#333" stroke-width="1.3" />
<line x1="119.2" y1="1324.8" x2="517.8" y2="1324.8" stroke="#1a1a1a" stroke-width="1.6" />
<line x1="115.2" y1="1324.8" x2="119.2" y2="1324.8" stroke="#333" stroke-width="1.2" />
<text x="87.6" y="1330.9" font-family="'Liberation Serif', 'Times New Roman', serif" font-size="18.5" font-weight="bold" textLength="16.6" lengthAdjust="spacingAndGlyphs">10</text>
<text x="104.2" y="1326.7" font-family="'Liberation Serif', 'Times New Roman', serif" font-size="12.5" font-weight="bold">0</text>
<line x1="115.2" y1="1270.7" x2="119.2" y2="1270.7" stroke="#333" stroke-width="1.2" />
<text x="87.6" y="1277.9" font-family="'Liberation Serif', 'Times New Roman', serif" font-size="18.5" font-weight="bold" textLength="16.6" lengthAdjust="spacingAndGlyphs">10</text>
<text x="104.2" y="1273.7" font-family="'Liberation Serif', 'Times New Roman', serif" font-size="12.5" font-weight="bold">1</text>
<line x1="115.2" y1="1216.6" x2="119.2" y2="1216.6" stroke="#333" stroke-width="1.2" />
<text x="87.6" y="1226.9" font-family="'Liberation Serif', 'Times New Roman', serif" font-size="18.5" font-weight="bold" textLength="16.6" lengthAdjust="spacingAndGlyphs">10</text>
<text x="104.2" y="1222.7" font-family="'Liberation Serif', 'Times New Roman', serif" font-size="12.5" font-weight="bold">2</text>
<line x1="115.2" y1="1162.5" x2="119.2" y2="1162.5" stroke="#333" stroke-width="1.2" />
<text x="87.6" y="1173.8" font-family="'Liberation Serif', 'Times New Roman', serif" font-size="18.5" font-weight="bold" textLength="16.6" lengthAdjust="spacingAndGlyphs">10</text>
<text x="104.2" y="1169.6" font-family="'Liberation Serif', 'Times New Roman', serif" font-size="12.5" font-weight="bold">3</text>
<line x1="115.2" y1="1108.4" x2="119.2" y2="1108.4" stroke="#333" stroke-width="1.2" />
<text x="87.6" y="1121.3" font-family="'Liberation Serif', 'Times New Roman', serif" font-size="18.5" font-weight="bold" textLength="16.6" lengthAdjust="spacingAndGlyphs">10</text>
<text x="104.2" y="1117.1" font-family="'Liberation Serif', 'Times New Roman', serif" font-size="12.5" font-weight="bold">4</text>
<text x="345.3" y="1103.3" font-family="'Liberation Serif', 'Times New Roman', serif" font-size="20.9" font-weight="bold" text-anchor="start" >CD3 deficiencies</text>
<text x="450.4" y="1131.6" font-family="'Liberation Serif', 'Times New Roman', serif" font-size="20.5" font-weight="normal" text-anchor="middle" stroke="#000" stroke-width="0.3">αβ γδ</text>
<rect x="431.9" y="1137.9" width="13.2" height="22.8" fill="#fff" stroke="#000" stroke-width="1.3"/>
<rect x="454" y="1137.3" width="15.8" height="24" fill="#000"/>
<line x1="154.2" y1="1126.6" x2="154.2" y2="1126" stroke="#000" stroke-width="1.2" />
<line x1="150.9" y1="1126" x2="157.5" y2="1126" stroke="#000" stroke-width="1.2" />
<rect x="146" y="1126.6" width="16.4" height="198.2" fill="#fff" stroke="#000" stroke-width="1.2"/>
<line x1="215.75" y1="1131.7" x2="215.75" y2="1127.1" stroke="#000" stroke-width="1.2" />
<line x1="212.45" y1="1127.1" x2="219.05" y2="1127.1" stroke="#000" stroke-width="1.2" />
<rect x="208.5" y="1131.7" width="14.5" height="193.1" fill="#fff" stroke="#000" stroke-width="1.2"/>
<line x1="230.85" y1="1212" x2="230.85" y2="1206" stroke="#000" stroke-width="1.2" />
<line x1="227.55" y1="1206" x2="234.15" y2="1206" stroke="#000" stroke-width="1.2" />
<rect x="223" y="1212" width="15.7" height="112.8" fill="#000" stroke="#000" stroke-width="1.2"/>
<line x1="263" y1="1205.8" x2="263" y2="1193.8" stroke="#000" stroke-width="1.2" />
<line x1="259.7" y1="1193.8" x2="266.3" y2="1193.8" stroke="#000" stroke-width="1.2" />
<rect x="255.5" y="1205.8" width="15" height="119" fill="#fff" stroke="#000" stroke-width="1.2"/>
<line x1="312.5" y1="1212" x2="312.5" y2="1209.5" stroke="#000" stroke-width="1.2" />
<line x1="309.2" y1="1209.5" x2="315.8" y2="1209.5" stroke="#000" stroke-width="1.2" />
<rect x="304.6" y="1212" width="15.8" height="112.8" fill="#fff" stroke="#000" stroke-width="1.2"/>
<line x1="359.7" y1="1292.2" x2="359.7" y2="1278.3" stroke="#000" stroke-width="1.2" />
<line x1="356.4" y1="1278.3" x2="363" y2="1278.3" stroke="#000" stroke-width="1.2" />
<rect x="352.3" y="1292.2" width="14.8" height="32.6" fill="#fff" stroke="#000" stroke-width="1.2"/>
<line x1="374.65" y1="1298.6" x2="374.65" y2="1283.8" stroke="#000" stroke-width="1.2" />
<line x1="371.35" y1="1283.8" x2="377.95" y2="1283.8" stroke="#000" stroke-width="1.2" />
<rect x="367.1" y="1298.6" width="15.1" height="26.2" fill="#000" stroke="#000" stroke-width="1.2"/>
<line x1="414.95" y1="1297.7" x2="414.95" y2="1287" stroke="#000" stroke-width="1.2" />
<line x1="411.65" y1="1287" x2="418.25" y2="1287" stroke="#000" stroke-width="1.2" />
<rect x="407.7" y="1297.7" width="14.5" height="27.1" fill="#fff" stroke="#000" stroke-width="1.2"/>
<rect x="422.2" y="1263.8" width="15.6" height="61" fill="#000" stroke="#000" stroke-width="1.2"/>
<line x1="468.8" y1="1304.8" x2="468.8" y2="1298.6" stroke="#000" stroke-width="1.2" />
<line x1="465.5" y1="1298.6" x2="472.1" y2="1298.6" stroke="#000" stroke-width="1.2" />
<rect x="462.2" y="1304.8" width="13.2" height="20" fill="#fff" stroke="#000" stroke-width="1.2"/>
<line x1="483.4" y1="1292.5" x2="483.4" y2="1283.8" stroke="#000" stroke-width="1.2" />
<line x1="480.1" y1="1283.8" x2="486.7" y2="1283.8" stroke="#000" stroke-width="1.2" />
<rect x="475.4" y="1292.5" width="16" height="32.3" fill="#000" stroke="#000" stroke-width="1.2"/>
<polygon points="153.9,1310 157.9,1314 153.9,1318 149.9,1314" fill="#000"/>
<circle cx="215" cy="1314.2" r="3.7" fill="#000"/>
<circle cx="262.5" cy="1313.6" r="3.6" fill="#000"/>
<line x1="262.5" y1="1313.6" x2="268.5" y2="1319.6" stroke="#000" stroke-width="2.6" />
<circle cx="309.4" cy="1314.4" r="3.6" fill="#000"/>
<line x1="309.4" y1="1314.4" x2="317.6" y2="1314.4" stroke="#000" stroke-width="2.6" />
<polygon points="356.6,1294.8 363.4,1294.8 360,1300.8" fill="#000"/>
<polygon points="356.6,1310 363.4,1310 360,1303.8" fill="#000"/>
<polygon points="357.2,1318.4 362.8,1318.4 360,1313" fill="#fff" stroke="#000" stroke-width="1.2"/>
<rect x="412" y="1302.6" width="5.6" height="5.6" fill="#000"/>
<rect x="412.4" y="1313.8" width="4.8" height="4.8" fill="#fff" stroke="#000" stroke-width="1.2"/>
<text x="109" y="1347.8" font-family="'Liberation Serif', 'Times New Roman', serif" font-size="14.65" font-weight="bold" text-anchor="end" >Mutation:</text>
<text x="108.3" y="1367.4" font-family="'Liberation Serif', 'Times New Roman', serif" font-size="14.4" font-weight="bold" text-anchor="end" >n:</text>
<text x="109" y="1391.2" font-family="'Liberation Serif', 'Times New Roman', serif" font-size="15.2" font-weight="bold" text-anchor="end" >CD3 chain:</text>
<text x="155.8" y="1347.8" font-family="'Liberation Serif', 'Times New Roman', serif" font-size="12" font-weight="bold" text-anchor="middle" >T43fs<tspan font-family="DejaVu Sans" font-size="11.5" font-weight="bold">→</tspan>X56</text>
<text x="217.8" y="1347.8" font-family="'Liberation Serif', 'Times New Roman', serif" font-size="12" font-weight="bold" text-anchor="middle" >R68X</text>
<text x="257.8" y="1347.8" font-family="'Liberation Serif', 'Times New Roman', serif" font-size="12" font-weight="bold" text-anchor="middle" >C93X</text>
<text x="313.4" y="1347.8" font-family="'Liberation Serif', 'Times New Roman', serif" font-size="12" font-weight="bold" text-anchor="middle" >IVS2-2 A&gt;G</text>
<text x="367.4" y="1347.8" font-family="'Liberation Serif', 'Times New Roman', serif" font-size="12" font-weight="bold" text-anchor="middle" >K69X</text>
<text x="423" y="1347.8" font-family="'Liberation Serif', 'Times New Roman', serif" font-size="12" font-weight="bold" text-anchor="middle" >M1V/H29X</text>
<text x="481.2" y="1346.3" font-family="'Liberation Serif', 'Times New Roman', serif" font-size="13.5" font-weight="bold" text-anchor="middle" >C</text>
<text x="153.5" y="1367.4" font-family="'Liberation Serif', 'Times New Roman', serif" font-size="14" font-weight="bold" text-anchor="middle" >2</text>
<text x="216.8" y="1367.4" font-family="'Liberation Serif', 'Times New Roman', serif" font-size="14" font-weight="bold" text-anchor="middle" >4</text>
<text x="229.9" y="1367.4" font-family="'Liberation Serif', 'Times New Roman', serif" font-size="14" font-weight="bold" text-anchor="middle" >3</text>
<text x="262.5" y="1367.4" font-family="'Liberation Serif', 'Times New Roman', serif" font-size="14" font-weight="bold" text-anchor="middle" >2</text>
<text x="311.6" y="1367.4" font-family="'Liberation Serif', 'Times New Roman', serif" font-size="14" font-weight="bold" text-anchor="middle" >2</text>
<text x="360" y="1367.4" font-family="'Liberation Serif', 'Times New Roman', serif" font-size="14" font-weight="bold" text-anchor="middle" >3</text>
<text x="376.3" y="1367.4" font-family="'Liberation Serif', 'Times New Roman', serif" font-size="14" font-weight="bold" text-anchor="middle" >2</text>
<text x="414.4" y="1367.4" font-family="'Liberation Serif', 'Times New Roman', serif" font-size="14" font-weight="bold" text-anchor="middle" >2</text>
<text x="430.7" y="1367.4" font-family="'Liberation Serif', 'Times New Roman', serif" font-size="14" font-weight="bold" text-anchor="middle" >1</text>
<text x="479.7" y="1367.4" font-family="'Liberation Serif', 'Times New Roman', serif" font-size="14" font-weight="bold" text-anchor="middle" >429</text>
<line x1="204.7" y1="1373.4" x2="325.6" y2="1373.4" stroke="#000" stroke-width="1.5" />
<line x1="348.7" y1="1372" x2="441" y2="1372" stroke="#000" stroke-width="1.5" />
<text x="154" y="1392.6" font-family="'Liberation Serif', 'Times New Roman', serif" font-size="25" font-weight="normal" text-anchor="middle" stroke="#000" stroke-width="0.5">ε</text>
<text x="257.3" y="1396" font-family="'Liberation Serif', 'Times New Roman', serif" font-size="25" font-weight="normal" text-anchor="middle" stroke="#000" stroke-width="0.5">δ</text>
<text x="394.2" y="1389.4" font-family="'Liberation Serif', 'Times New Roman', serif" font-size="25.5" font-weight="normal" text-anchor="middle" stroke="#000" stroke-width="0.5">γ</text>
</svg>
</body></html>
